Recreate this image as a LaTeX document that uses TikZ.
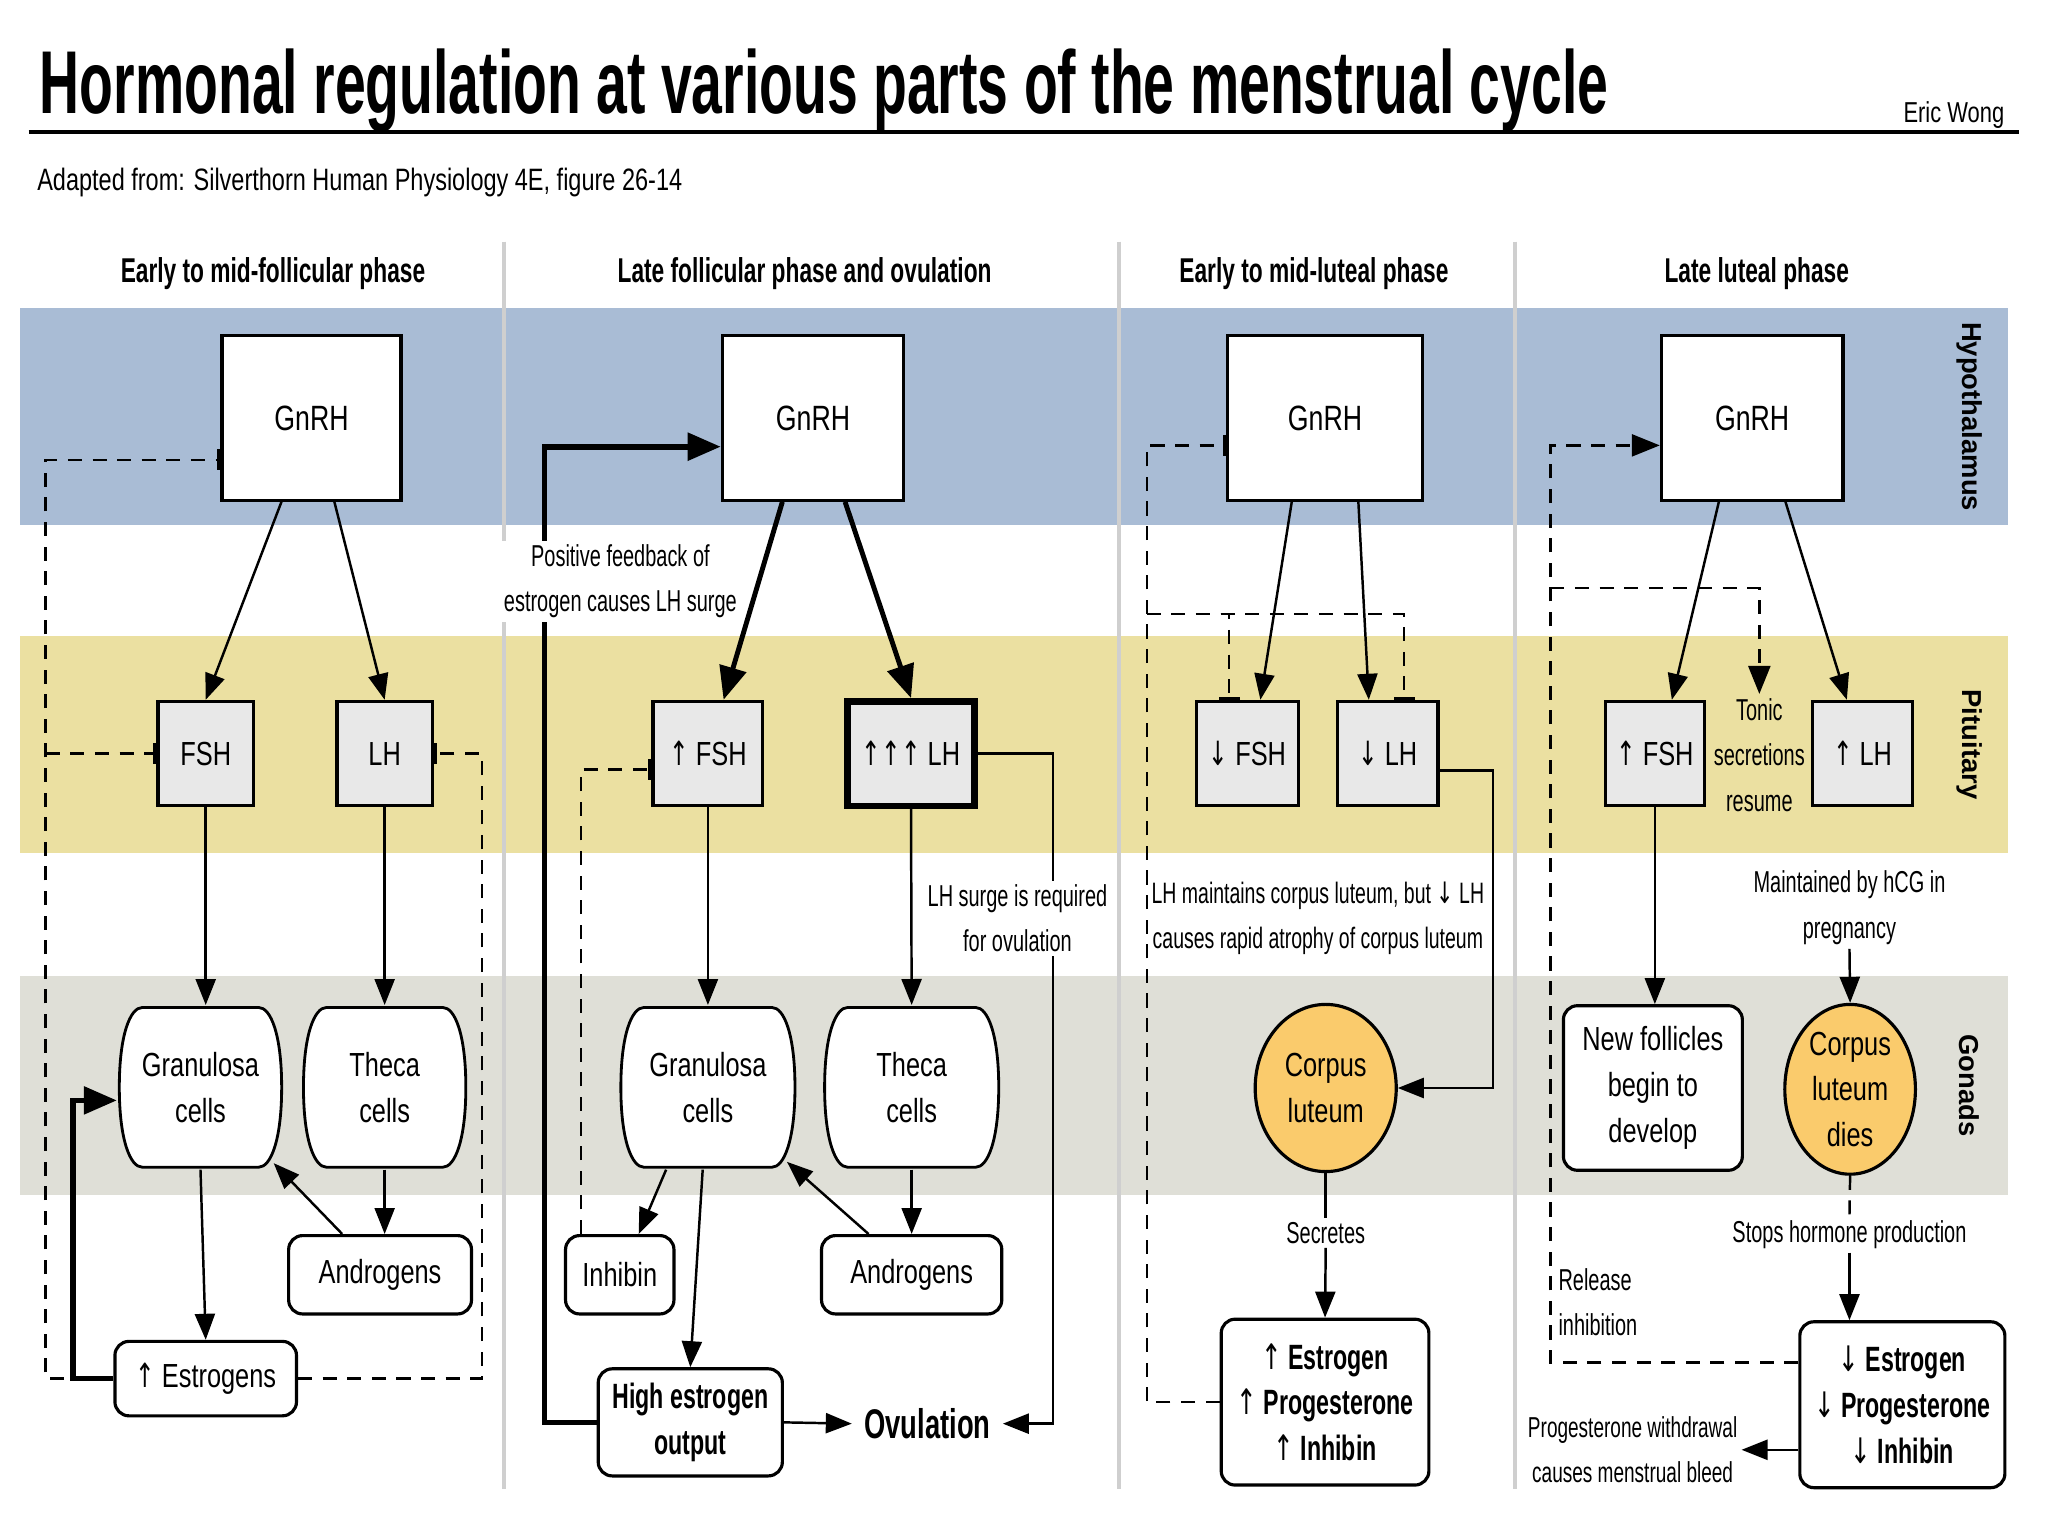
\documentclass[tikz,border=0pt]{standalone}
\usepackage{fontspec}
\setmainfont{Liberation Sans}
\newfontfamily\boxfont{Liberation Sans}[FakeStretch=0.76]
\newfontfamily\condfont{Liberation Sans}[FakeStretch=0.66]
\newfontfamily\titlefont{Liberation Sans}[FakeStretch=0.62]
\newfontfamily\arrowfont{DejaVu Sans}[FakeStretch=0.7]
\usepackage{xcolor}
\usepackage{tikz}
\usetikzlibrary{positioning, arrows.meta, shapes.geometric, calc}

\definecolor{hypoblue}{HTML}{A9BCD5}
\definecolor{pitgold}{HTML}{EBE0A1}
\definecolor{gongray}{HTML}{DFDFD7}
\definecolor{lutorange}{HTML}{FACB6C}
\definecolor{boxgray}{HTML}{E8E8E8}
\definecolor{sepgray}{HTML}{CFCFCF}

\def\pxu{0.01306cm}
\newcommand{\boxfs}{\boxfont\fontsize{9.5}{13}\selectfont}
\newcommand{\gnfs}{\boxfont\fontsize{10}{13}\selectfont}
\newcommand{\lblfs}{\condfont\fontsize{8.6}{13}\selectfont}
\newcommand{\boldfs}{\condfont\bfseries\fontsize{10}{13}\selectfont}
\newcommand{\upa}{{\arrowfont\mdseries ↑}}
\newcommand{\dna}{{\arrowfont\mdseries ↓}}

\tikzset{
  gnrh/.style={draw, fill=white, line width=0.9pt, minimum width=#1*\pxu, minimum height=126*\pxu, inner sep=0pt, font=\gnfs},
  pit/.style={draw, fill=boxgray, line width=0.9pt, minimum width=#1*\pxu, minimum height=80*\pxu, inner sep=0pt, font=\boxfs},
  rbox/.style={draw, fill=white, rounded corners=1.4mm, line width=0.9pt, minimum width=#1*\pxu, minimum height=60*\pxu, inner sep=0pt, align=center, font=\boxfs},
  hormbox/.style={rbox=#1, minimum height=127*\pxu, font=\boldfs},
  cell/.style={minimum width=#1*\pxu, minimum height=125*\pxu, inner sep=0pt, align=center, font=\boxfs,
    path picture={\draw[line width=0.8pt, fill=white]
      let \p1=(path picture bounding box.north west), \p2=(path picture bounding box.south east),
          \n1={\x1+0.5pt}, \n2={\x2-0.5pt}, \n3={\y1-0.5pt}, \n4={\y2+0.5pt}, \n5={(\y1+\y2)/2}, \n6={(\y1-\y2)/4}
      in (\n1+2.3mm,\n3) -- (\n2-2.3mm,\n3)
        .. controls (\n2-1.1mm,\n3) and (\n2,\n5+1.3*\n6) .. (\n2,\n5)
        .. controls (\n2,\n5-1.3*\n6) and (\n2-1.1mm,\n4) .. (\n2-2.3mm,\n4)
        -- (\n1+2.3mm,\n4)
        .. controls (\n1+1.1mm,\n4) and (\n1,\n5-1.3*\n6) .. (\n1,\n5)
        .. controls (\n1,\n5+1.3*\n6) and (\n1+1.1mm,\n3) .. cycle;}},
  lutcell/.style={ellipse, draw, fill=lutorange, line width=0.9pt, minimum width=#1*\pxu, minimum height=128*\pxu, inner sep=0pt, align=center, font=\boxfs},
  lbl/.style={align=center, font=\lblfs, inner sep=1pt},
  phase/.style={anchor=base, font=\condfont\bfseries\fontsize{9.8}{12}\selectfont},
  organ/.style={rotate=-90, font=\bfseries\fontsize{7.8}{9}\selectfont},
  arr/.style={line width=0.7pt, -{Triangle[length=2.6mm, width=2mm]}},
  bigarr/.style={line width=1.6pt, -{Triangle[length=3.3mm, width=2.7mm]}},
  fb/.style={line width=0.7pt, dash pattern=on 4pt off 3pt},
  inh/.style={fb, -{Bar[width=2.1mm, line width=0.9pt]}},
}

\begin{document}
\begin{tikzpicture}[x=\pxu, y=-\pxu]
    \useasboundingbox (0,0) rectangle (1568,1176);
    \fill[white] (0,0) rectangle (1568,1176);

    % bands and column rules
    \fill[hypoblue] (15,236) rectangle (1537,402);
    \fill[pitgold] (15,487) rectangle (1537,653);
    \fill[gongray] (15,747) rectangle (1537,915);
    \foreach \sx in {386,857,1160}
        \draw[sepgray, line width=1.1pt] (\sx,185) -- (\sx,1140);

    \node[anchor=base west, inner sep=0pt, font=\titlefont\bfseries\fontsize{25.4}{30}\selectfont] (ttl) at (30,87) {Hormonal regulation at various parts of the menstrual cycle};
    \node[anchor=base east, inner sep=0pt, font=\boxfont\fontsize{8.2}{10}\selectfont] (auth) at (1535,94) {Eric Wong};
    \draw[line width=1.1pt] (22,101) -- (1546,101);
    \node[anchor=base west, inner sep=0pt, font=\boxfont\fontsize{8.8}{11}\selectfont] (src) at (28,146) {Adapted from: Silverthorn Human Physiology 4E, figure 26-14};

    \node[phase] (h1) at (209,216) {Early to mid-follicular phase};
    \node[phase] (h2) at (616,216) {Late follicular phase and ovulation};
    \node[phase] (h3) at (1006,216) {Early to mid-luteal phase};
    \node[phase] (h4) at (1345,216) {Late luteal phase};

    \node[organ] (hy) at (1508,319) {Hypothalamus};
    \node[organ] (pi) at (1508,570) {Pituitary};
    \node[organ] (go) at (1508,831) {Gonads};

    % early to mid-follicular
    \node[gnrh=137] (g1) at (238.5,320) {GnRH};
    \node[pit=73] (f1) at (157.5,577) {FSH};
    \node[pit=73] (l1) at (294.5,577) {LH};
    \node[cell=127] (gr1) at (153.5,832.5) {Granulosa\\cells};
    \node[cell=127] (th1) at (294.5,832.5) {Theca\\cells};
    \node[rbox=140] (an1) at (291,976) {Androgens};
    \node[rbox=139, minimum height=57*\pxu] (es1) at (157.5,1055.5) {\upa\ Estrogens};

    \draw[arr] ($(g1.south)+(-23,0)$) -- (f1.north);
    \draw[arr] ($(g1.south)+(17.5,0)$) -- (l1.north);
    \draw[arr] (f1.south) -- (f1.south |- gr1.north);
    \draw[arr] (l1.south) -- (th1.north);
    \draw[arr] (th1.south) -- (th1.south |- an1.north);
    \draw[arr] ($(an1.north)+(-29,0)$) -- ($(gr1.south east)+(-8,-5)$);
    \draw[arr] (gr1.south) -- (es1.north);
    \coordinate (c1top) at (35,352);
    \coordinate (c1r) at (369,577);
    \draw[inh] (es1.west) -| (c1top) -- (g1.west |- c1top);
    \draw[inh] (c1top |- f1.west) -- (f1.west);
    \draw[inh] (es1.east) -| (c1r) -- (l1.east);
    \draw[bigarr] (es1.west) -- ++(-31,0) |- ($(gr1.west)+(0,10)$);

    % late follicular and ovulation
    \node[gnrh=139] (g2) at (622.5,320) {GnRH};
    \node[pit=84] (f2) at (542,577) {\upa\ FSH};
    \node[pit=97, line width=1.9pt] (l2) at (697.5,577) {\upa\upa\upa\ LH};
    \node[cell=136] (gr2) at (542,832.5) {Granulosa\\cells};
    \node[cell=136] (th2) at (698,832.5) {Theca\\cells};
    \node[rbox=83] (in2) at (474.5,976) {Inhibin};
    \node[rbox=138] (an2) at (698,976) {Androgens};
    \node[rbox=141, minimum height=82*\pxu, font=\boldfs] (he2) at (528.5,1089) {High estrogen\\output};
    \node[font=\condfont\bfseries\fontsize{11.8}{14}\selectfont] (ov2) at (710,1090) {Ovulation};

    \draw[bigarr, line width=1.4pt] ($(g2.south)+(-23.5,0)$) -- ($(f2.north)+(12,0)$);
    \draw[bigarr, line width=1.4pt] ($(g2.south)+(24.5,0)$) -- (l2.north);
    \draw[arr] (f2.south) -- (gr2.north);
    \draw[arr] (l2.south) -- (th2.north);
    \draw[arr] (th2.south) -- (an2.north);
    \draw[arr] ($(an2.north)+(-33,0)$) -- ($(gr2.south east)+(-8,-6)$);
    \draw[arr] ($(gr2.south)+(-32,0)$) -- ($(in2.north)+(14.5,0)$);
    \draw[arr] ($(gr2.south)+(-4,0)$) -- (he2.north);
    \draw[arr] (he2.east) -- (ov2.west);
    \coordinate (c2top) at (417,342);
    \coordinate (c2r) at (806,1090);
    \draw[bigarr] (he2.west) -| (c2top) -- (g2.west |- c2top);
    \draw[inh] ($(in2.north west)+(13,0)$) |- ($(f2.west)+(0,12)$);
    \draw[arr] (l2.east) -| (c2r) -- (ov2.east);
    \node[lbl, fill=white] (pf2) at (475,445) {Positive feedback of\\estrogen causes LH surge};
    \node[lbl, fill=white] (ls2) at (779,703) {LH surge is required\\for ovulation};

    % early to mid-luteal
    \node[gnrh=149] (g3) at (1014.5,320) {GnRH};
    \node[pit=78] (f3) at (955,577) {\dna\ FSH};
    \node[pit=77] (l3) at (1062.5,577) {\dna\ LH};
    \node[lutcell=108] (cl3) at (1015,833) {Corpus\\luteum};
    \node[lbl] (sc3) at (1015,944) {Secretes};
    \node[hormbox=159] (ep3) at (1014.5,1073.5) {\upa\ Estrogen\\\upa\ Progesterone\\\upa\ Inhibin};
    \node[lbl, font=\condfont\fontsize{8.4}{13}\selectfont] (lm3) at (1009,703) {LH maintains corpus luteum, but \dna\ LH\\causes rapid atrophy of corpus luteum};

    \draw[arr] ($(g3.south)+(-25.5,0)$) -- ($(f3.north)+(10,0)$);
    \draw[arr] ($(g3.south)+(25.5,0)$) -- ($(l3.north)+(-14.5,0)$);
    \coordinate (c3top) at (878,341);
    \coordinate (c3m) at (878,470);
    \draw[inh] (ep3.west) -| (c3top) -- (g3.west |- c3top);
    \draw[inh] (c3m) -| ($(f3.north)+(-14,0)$);
    \draw[inh] (c3m) -| ($(l3.north)+(12.5,0)$);
    \draw[arr] ($(l3.east)+(0,13)$) -| ($(cl3.east)+(73,0)$) -- (cl3.east);
    \draw[line width=0.7pt] (cl3.south) -- (sc3.north);
    \draw[arr] (sc3.south) -- (ep3.north);

    % late luteal
    \node[gnrh=139] (g4) at (1341.5,320) {GnRH};
    \node[pit=76] (f4) at (1267,577) {\upa\ FSH};
    \node[pit=76] (l4) at (1426,577) {\upa\ LH};
    \node[lbl] (tn4) at (1347,578) {Tonic\\secretions\\resume};
    \node[rbox=137, minimum height=126*\pxu] (nf4) at (1265.5,833) {New follicles\\begin to\\develop};
    \node[lbl] (mh4) at (1416,695) {Maintained by hCG in\\pregnancy};
    \node[lutcell=100, minimum height=130*\pxu] (cd4) at (1416.5,834) {Corpus\\luteum\\dies};
    \node[lbl] (st4) at (1416,945) {Stops hormone production};
    \node[hormbox=157] (bx4) at (1456.5,1075.5) {\dna\ Estrogen\\\dna\ Progesterone\\\dna\ Inhibin};
    \node[lbl, align=left, anchor=west] (ri4) at (1190,997) {Release\\inhibition};
    \node[lbl, font=\condfont\fontsize{8.2}{13}\selectfont] (pw4) at (1250,1110) {Progesterone withdrawal\\causes menstrual bleed};

    \draw[arr] ($(g4.south)+(-25.5,0)$) -- ($(f4.north)+(13,0)$);
    \draw[arr] ($(g4.south)+(25.5,0)$) -- ($(l4.north)+(-12,0)$);
    \coordinate (c4top) at (1187,341);
    \coordinate (c4m) at (1187,450);
    \draw[fb, -{Triangle[length=2.8mm, width=2.2mm]}] ($(bx4.west)+(0,-32.5)$) -| (c4top) -- (g4.west |- c4top);
    \draw[fb, -{Triangle[length=2.8mm, width=2.2mm]}] (c4m) -| (tn4.north);
    \draw[arr] (f4.south) -- (f4.south |- nf4.north);
    \draw[arr] (mh4.south) -- (cd4.north);
    \draw[fb] (cd4.south) -- (st4.north);
    \draw[arr] (st4.south) -- (st4.south |- bx4.north);
    \draw[arr] (bx4.west |- pw4.east) -- (pw4.east);
\end{tikzpicture}
\end{document}
